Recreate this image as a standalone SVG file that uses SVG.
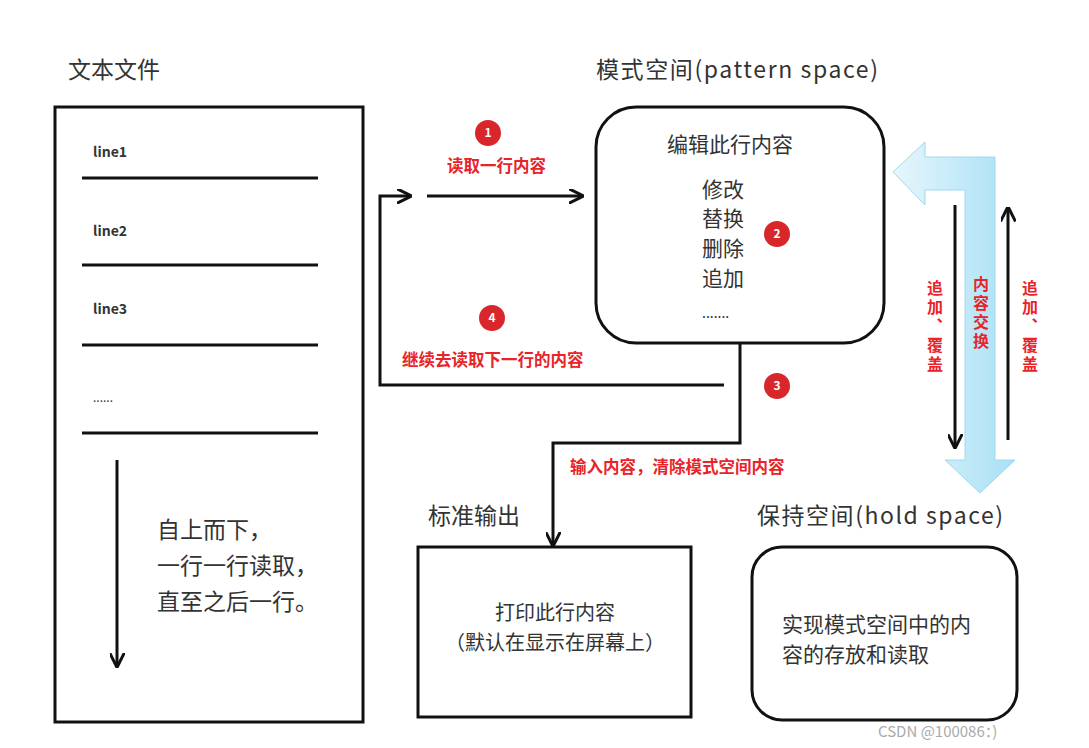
<svg xmlns="http://www.w3.org/2000/svg" width="1089" height="748" viewBox="0 0 1089 748">
<defs>
<style>
text{font-family:"Noto Sans CJK SC","Liberation Sans",sans-serif;fill:#333}
.t{font-size:23px}
.red{fill:#e8232a;font-weight:bold;font-size:16.5px}
.ln{stroke:#111;stroke-width:3;fill:none}
.box{fill:#fff;stroke:#111;stroke-width:3}
.b{fill:#d9262b}
.bt{fill:#fff;font-size:12px;font-weight:bold;text-anchor:middle}
.v{fill:#e8232a;font-weight:bold;font-size:16px;letter-spacing:3px}
</style>
<marker id="ah" viewBox="0 0 10 10" refX="9" refY="5" markerWidth="5" markerHeight="5" orient="auto"><path d="M0,0L10,5L0,10" fill="none" stroke="#111" stroke-width="2"/></marker>
<linearGradient id="bl" x1="0" x2="1"><stop offset="0" stop-color="#e6f6fd"/><stop offset="1" stop-color="#a8e0f5"/></linearGradient>
</defs>
<rect width="1089" height="748" fill="#fff"/>
<g id="textfile">
<text x="68" y="78" class="t" font-size="24">文本文件</text>
<rect x="55" y="107" width="308" height="615" class="box"/>
<text x="93" y="157" font-size="14" font-weight="bold" fill="#111">line1</text>
<text x="93" y="236" font-size="14" font-weight="bold" fill="#111">line2</text>
<text x="93" y="314" font-size="14" font-weight="bold" fill="#111">line3</text>
<text x="93" y="402" font-size="12" fill="#111">......</text>
<path d="M82 178H318M82 265H318M82 345H318M82 433H318" class="ln"/>
<path d="M117 460V666" class="ln" marker-end="url(#ah)"/>
<text x="157" y="538" class="t">自上而下，</text>
<text x="157" y="574" class="t">一行一行读取，</text>
<text x="157" y="610" class="t">直至之后一行。</text>
</g>
<g id="pattern">
<text x="596" y="78" class="t" textLength="282">模式空间(pattern space)</text>
<rect x="596" y="107" width="288" height="236" rx="40" class="box"/>
<text x="730" y="152" font-size="21" text-anchor="middle">编辑此行内容</text>
<text x="702" y="197" font-size="21">修改</text>
<text x="702" y="226" font-size="21">替换</text>
<text x="702" y="256" font-size="21">删除</text>
<text x="702" y="286" font-size="21">追加</text>
<text x="702" y="318" font-size="14">.......</text>
</g>
<g id="stdout">
<text x="428" y="524" class="t">标准输出</text>
<rect x="418" y="547" width="273" height="170" class="box"/>
<text x="555" y="620" font-size="20" text-anchor="middle">打印此行内容</text>
<text x="555" y="650" font-size="20" text-anchor="middle">（默认在显示在屏幕上）</text>
</g>
<g id="hold">
<text x="757" y="524" class="t" textLength="246">保持空间(hold space)</text>
<rect x="752" y="547" width="265" height="173" rx="30" class="box"/>
<text x="782" y="632" font-size="21">实现模式空间中的内</text>
<text x="782" y="662" font-size="21">容的存放和读取</text>
</g>
<g id="connectors">
<path d="M427 196H582" class="ln" marker-end="url(#ah)"/>
<path d="M724 385H380V196H410" class="ln" marker-end="url(#ah)"/>
<path d="M740 343V443H553V545" class="ln" marker-end="url(#ah)"/>
<path d="M893 172L925 142V157H995V460H1015L980 493L945 460H965V190H925V205Z" fill="url(#bl)" stroke="#9fd8ef" stroke-width="1"/>
<path d="M955 205V447" class="ln" marker-end="url(#ah)"/>
<path d="M1008 440V208" class="ln" marker-end="url(#ah)"/>
<text class="red" x="447" y="172">读取一行内容</text>
<text class="red" x="402" y="366">继续去读取下一行的内容</text>
<text class="red" x="570" y="473">输入内容，清除模式空间内容</text>
<text class="v" x="935" y="280" writing-mode="tb" text-anchor="start">追加、覆盖</text>
<text class="v" x="1030" y="280" writing-mode="tb" text-anchor="start">追加、覆盖</text>
<text class="v" x="981" y="276" writing-mode="tb" text-anchor="start">内容交换</text>
</g>
<g id="badges">
<circle cx="488" cy="133" r="13" class="b"/><text x="488" y="137" class="bt">1</text>
<circle cx="777" cy="234" r="13" class="b"/><text x="777" y="238" class="bt">2</text>
<circle cx="777" cy="386" r="13" class="b"/><text x="777" y="390" class="bt">3</text>
<circle cx="492" cy="318" r="13" class="b"/><text x="492" y="322" class="bt">4</text>
</g>
<text x="878" y="737" font-size="15" style="fill:#aaa">CSDN @100086：)</text>
</svg>
